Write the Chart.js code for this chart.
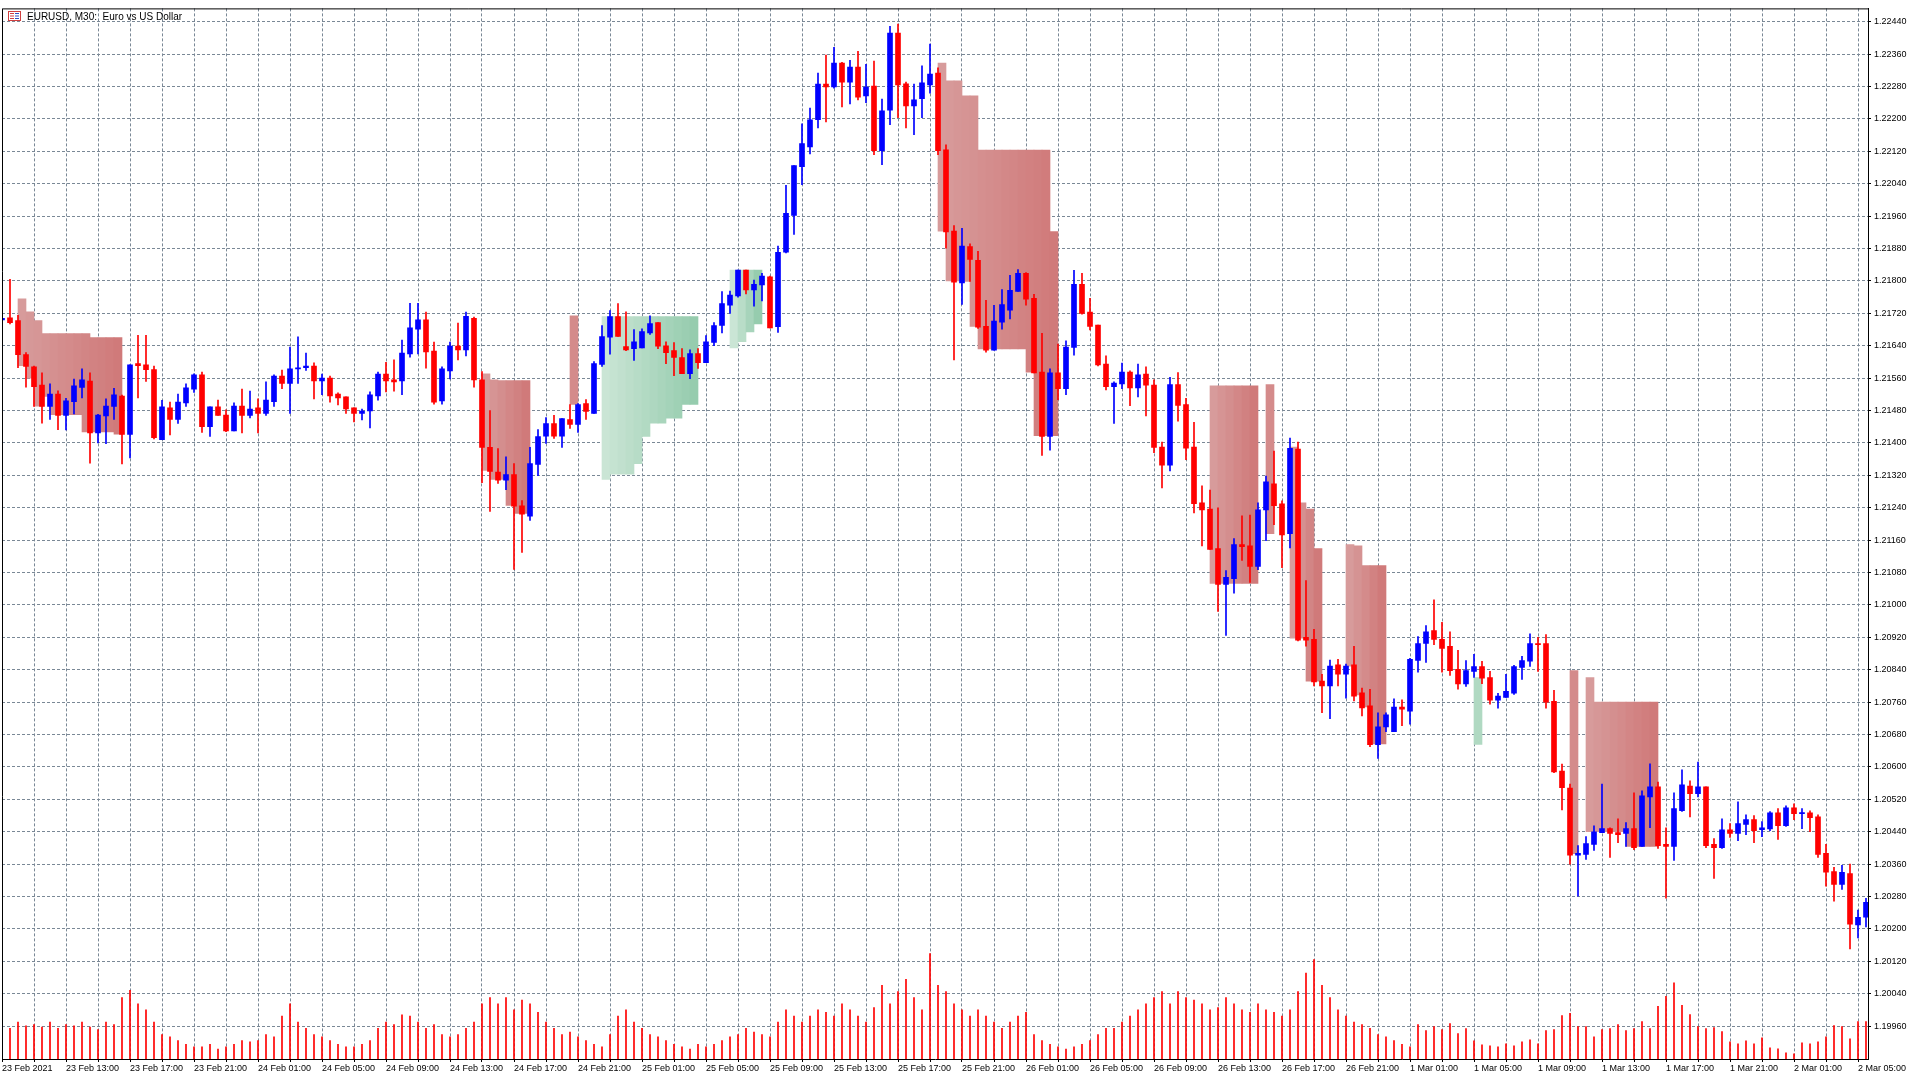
<!DOCTYPE html>
<html>
<head>
<meta charset="utf-8">
<script src="https://cdn.jsdelivr.net/npm/chart.js@4.4.1/dist/chart.umd.min.js"></script>
<style>
  html, body { margin: 0; padding: 0; background: #fff; }
  #wrap { width: 1918px; height: 1075px; position: relative; }
</style>
</head>
<body>
<div id="wrap"><canvas id="chart"></canvas></div>
<script>
// EURUSD M30, 23 Feb 2021 09:00 .. 2 Mar 2021 05:30 (one entry per bar)
const opens = [1.21704,1.21709,1.21702,1.21618,1.21588,1.21543,1.21490,1.21521,1.21468,1.21502,1.21537,1.21553,1.21425,1.21467,1.21490,1.21516,1.21421,1.21596,1.21593,1.21581,
1.21408,1.21487,1.21458,1.21499,1.21533,1.21568,1.21440,1.21489,1.21469,1.21430,1.21491,1.21468,1.21487,1.21473,1.21502,1.21565,1.21547,1.21583,1.21586,1.21590,
1.21553,1.21560,1.21521,1.21514,1.21487,1.21473,1.21479,1.21516,1.21570,1.21556,1.21553,1.21620,1.21681,1.21704,1.21627,1.21504,1.21578,1.21639,1.21630,1.21708,
1.21556,1.21389,1.21328,1.21308,1.21322,1.21245,1.21219,1.21347,1.21417,1.21448,1.21417,1.21458,1.21446,1.21497,1.21473,1.21594,1.21661,1.21712,1.21638,1.21633,
1.21635,1.21672,1.21697,1.21640,1.21628,1.21611,1.21571,1.21621,1.21598,1.21648,1.21690,1.21740,1.21763,1.21827,1.21778,1.21790,1.21810,1.21687,1.21871,1.21962,
1.22082,1.22131,1.22198,1.22286,1.22279,1.22338,1.22291,1.22328,1.22257,1.22281,1.22122,1.22222,1.22412,1.22287,1.22232,1.22250,1.22284,1.22313,1.22124,1.21923,
1.21795,1.21885,1.21851,1.21688,1.21629,1.21698,1.21728,1.21774,1.21819,1.21757,1.21575,1.21416,1.21573,1.21534,1.21636,1.21792,1.21723,1.21691,1.21595,1.21539,
1.21546,1.21575,1.21536,1.21570,1.21543,1.21390,1.21345,1.21544,1.21495,1.21390,1.21252,1.21237,1.21139,1.21051,1.21065,1.21149,1.21146,1.21095,1.21235,1.21299,
1.21250,1.21176,1.21385,1.20920,1.20915,1.20812,1.20800,1.20852,1.20829,1.20852,1.20783,1.20751,1.20655,1.20699,1.20687,1.20748,1.20738,1.20863,1.20905,1.20937,
1.20915,1.20898,1.20841,1.20805,1.20836,1.20848,1.20821,1.20765,1.20772,1.20782,1.20846,1.20861,1.20905,1.20905,1.20762,1.20590,1.20548,1.20382,1.20384,1.20409,
1.20438,1.20448,1.20438,1.20436,1.20448,1.20404,1.20526,1.20551,1.20409,1.20404,1.20492,1.20553,1.20534,1.20551,1.20409,1.20401,1.20445,1.20436,1.20458,1.20470,
1.20445,1.20447,1.20487,1.20455,1.20499,1.20485,1.20487,1.20477,1.20387,1.20342,1.20310,1.20337,1.20210,1.20229];
const highs = [1.21712,1.21804,1.21715,1.21623,1.21590,1.21573,1.21546,1.21529,1.21510,1.21558,1.21583,1.21573,1.21471,1.21509,1.21535,1.21518,1.21593,1.21666,1.21666,1.21590,
1.21505,1.21501,1.21521,1.21546,1.21571,1.21575,1.21489,1.21506,1.21482,1.21499,1.21533,1.21528,1.21509,1.21551,1.21568,1.21580,1.21637,1.21662,1.21622,1.21598,
1.21570,1.21565,1.21524,1.21514,1.21487,1.21484,1.21526,1.21575,1.21599,1.21605,1.21654,1.21745,1.21745,1.21723,1.21649,1.21588,1.21649,1.21696,1.21723,1.21711,
1.21576,1.21480,1.21386,1.21366,1.21349,1.21258,1.21389,1.21433,1.21463,1.21468,1.21460,1.21495,1.21497,1.21507,1.21601,1.21690,1.21727,1.21744,1.21724,1.21680,
1.21682,1.21714,1.21697,1.21650,1.21648,1.21633,1.21630,1.21633,1.21665,1.21697,1.21774,1.21775,1.21827,1.21827,1.21802,1.21819,1.21812,1.21886,1.22036,1.22085,
1.22188,1.22227,1.22313,1.22358,1.22377,1.22340,1.22345,1.22367,1.22335,1.22343,1.22249,1.22429,1.22434,1.22291,1.22286,1.22331,1.22385,1.22326,1.22136,1.21937,
1.21930,1.21892,1.21873,1.21752,1.21740,1.21779,1.21814,1.21828,1.21821,1.21767,1.21671,1.21583,1.21644,1.21652,1.21826,1.21819,1.21757,1.21691,1.21615,1.21551,
1.21597,1.21578,1.21595,1.21588,1.21556,1.21402,1.21562,1.21574,1.21510,1.21451,1.21294,1.21284,1.21240,1.21085,1.21164,1.21220,1.21222,1.21252,1.21318,1.21380,
1.21257,1.21412,1.21402,1.21060,1.20940,1.20829,1.20864,1.20866,1.20854,1.20898,1.20795,1.20792,1.20734,1.20734,1.20768,1.20766,1.20868,1.20922,1.20949,1.21013,
1.20957,1.20934,1.20888,1.20863,1.20878,1.20861,1.20836,1.20782,1.20829,1.20851,1.20873,1.20929,1.20920,1.20927,1.20789,1.20607,1.20558,1.20406,1.20428,1.20455,
1.20558,1.20450,1.20472,1.20463,1.20536,1.20541,1.20608,1.20563,1.20450,1.20536,1.20593,1.20566,1.20612,1.20551,1.20423,1.20472,1.20460,1.20514,1.20482,1.20480,
1.20465,1.20490,1.20497,1.20504,1.20509,1.20497,1.20492,1.20482,1.20409,1.20352,1.20357,1.20360,1.20247,1.20276];
const lows = [1.21700,1.21694,1.21586,1.21538,1.21490,1.21449,1.21458,1.21433,1.21432,1.21472,1.21511,1.21350,1.21400,1.21398,1.21458,1.21348,1.21363,1.21511,1.21552,1.21410,
1.21408,1.21420,1.21448,1.21490,1.21525,1.21426,1.21416,1.21468,1.21428,1.21430,1.21425,1.21462,1.21425,1.21468,1.21490,1.21534,1.21473,1.21547,1.21579,1.21509,
1.21519,1.21501,1.21494,1.21473,1.21452,1.21457,1.21437,1.21506,1.21526,1.21528,1.21519,1.21612,1.21620,1.21585,1.21496,1.21496,1.21558,1.21605,1.21615,1.21538,
1.21302,1.21231,1.21300,1.21285,1.21088,1.21130,1.21209,1.21319,1.21399,1.21411,1.21389,1.21436,1.21426,1.21458,1.21473,1.21589,1.21619,1.21663,1.21628,1.21604,
1.21635,1.21668,1.21633,1.21596,1.21566,1.21571,1.21559,1.21584,1.21598,1.21640,1.21672,1.21720,1.21760,1.21768,1.21738,1.21751,1.21684,1.21673,1.21869,1.21915,
1.22038,1.22114,1.22178,1.22193,1.22276,1.22230,1.22237,1.22247,1.22240,1.22112,1.22087,1.22186,1.22203,1.22178,1.22161,1.22203,1.22264,1.22112,1.21881,1.21605,
1.21742,1.21799,1.21683,1.21624,1.21629,1.21681,1.21706,1.21774,1.21740,1.21573,1.21369,1.21382,1.21507,1.21519,1.21617,1.21718,1.21679,1.21590,1.21531,1.21448,
1.21534,1.21492,1.21514,1.21467,1.21376,1.21289,1.21331,1.21454,1.21359,1.21227,1.21146,1.21137,1.20984,1.20925,1.21029,1.21110,1.21056,1.21087,1.21159,1.21198,
1.21092,1.21141,1.20911,1.20898,1.20800,1.20734,1.20719,1.20800,1.20770,1.20763,1.20726,1.20650,1.20621,1.20687,1.20687,1.20702,1.20706,1.20834,1.20858,1.20902,
1.20834,1.20826,1.20792,1.20799,1.20821,1.20806,1.20755,1.20745,1.20772,1.20779,1.20816,1.20848,1.20836,1.20745,1.20586,1.20494,1.20360,1.20281,1.20372,1.20394,
1.20438,1.20377,1.20413,1.20404,1.20396,1.20404,1.20450,1.20399,1.20276,1.20369,1.20490,1.20477,1.20526,1.20401,1.20325,1.20399,1.20426,1.20418,1.20433,1.20413,
1.20428,1.20443,1.20421,1.20453,1.20470,1.20448,1.20440,1.20377,1.20306,1.20269,1.20298,1.20151,1.20178,1.20205];
const closes = [1.21708,1.21697,1.21618,1.21589,1.21539,1.21490,1.21521,1.21468,1.21504,1.21541,1.21556,1.21425,1.21469,1.21491,1.21519,1.21421,1.21593,1.21591,1.21581,1.21413,
1.21489,1.21458,1.21501,1.21536,1.21568,1.21440,1.21489,1.21468,1.21430,1.21491,1.21468,1.21484,1.21473,1.21506,1.21565,1.21547,1.21583,1.21585,1.21590,1.21553,
1.21560,1.21516,1.21511,1.21484,1.21473,1.21479,1.21519,1.21570,1.21553,1.21551,1.21622,1.21684,1.21704,1.21625,1.21501,1.21583,1.21639,1.21630,1.21713,1.21556,
1.21389,1.21330,1.21308,1.21322,1.21244,1.21224,1.21349,1.21416,1.21448,1.21417,1.21460,1.21446,1.21495,1.21478,1.21596,1.21663,1.21712,1.21663,1.21630,1.21650,
1.21675,1.21695,1.21639,1.21623,1.21611,1.21571,1.21621,1.21598,1.21650,1.21690,1.21744,1.21765,1.21827,1.21778,1.21792,1.21812,1.21684,1.21871,1.21967,1.22085,
1.22139,1.22198,1.22286,1.22279,1.22338,1.22291,1.22328,1.22254,1.22279,1.22122,1.22220,1.22412,1.22284,1.22232,1.22247,1.22289,1.22311,1.22122,1.21921,1.21797,
1.21886,1.21853,1.21686,1.21629,1.21701,1.21742,1.21777,1.21819,1.21755,1.21573,1.21416,1.21573,1.21534,1.21637,1.21792,1.21720,1.21688,1.21593,1.21539,1.21548,
1.21575,1.21536,1.21568,1.21543,1.21389,1.21345,1.21544,1.21493,1.21387,1.21250,1.21235,1.21137,1.21051,1.21068,1.21149,1.21144,1.21095,1.21235,1.21304,1.21245,
1.21173,1.21387,1.20913,1.20913,1.20810,1.20800,1.20849,1.20829,1.20849,1.20775,1.20746,1.20655,1.20699,1.20729,1.20748,1.20743,1.20866,1.20905,1.20934,1.20915,
1.20893,1.20838,1.20805,1.20838,1.20848,1.20819,1.20765,1.20775,1.20787,1.20848,1.20863,1.20905,1.20902,1.20760,1.20588,1.20549,1.20382,1.20387,1.20411,1.20440,
1.20448,1.20436,1.20433,1.20448,1.20401,1.20529,1.20551,1.20406,1.20404,1.20497,1.20556,1.20534,1.20551,1.20406,1.20401,1.20445,1.20436,1.20460,1.20470,1.20443,
1.20450,1.20487,1.20455,1.20499,1.20485,1.20487,1.20475,1.20384,1.20340,1.20310,1.20340,1.20212,1.20229,1.20266];
// tick volumes
const volumes = [1120,1000,1200,1080,1120,1040,1200,1000,1120,1080,1200,1040,960,1200,1120,2000,2240,1800,1600,1200,
800,720,600,480,400,400,480,320,400,480,600,560,600,800,720,1400,1800,1200,1000,800,720,
600,480,400,400,480,600,1000,1200,1120,1440,1400,1200,1000,1120,800,720,800,1000,1200,1800,2000,
1800,2000,1600,1920,1800,1520,1200,1000,800,880,720,600,480,400,
800,1400,1600,1200,1000,800,720,600,480,400,320,480,400,480,600,720,800,1000,880,800,720,
1200,1600,1400,1200,1400,1600,1520,1400,1800,1600,1400,1200,1680,2400,1800,2200,2600,2000,1600,3440,2400,2200,1800,1600,1400,
1600,1400,1200,1000,1200,1400,1520,800,600,480,400,320,400,480,600,800,1000,1000,1200,1400,1600,1800,2000,2200,1800,
2200,2000,1920,1800,1600,1680,2000,1800,1600,1520,1800,1600,1520,1400,1600,2200,2800,3240,2400,2000,1600,1400,1200,1120,1000,800,720,600,480,400,
1122,924,1056,957,1155,825,990,594,462,429,396,495,429,561,627,495,924,957,1419,1485,1056,1056,726,957,990,1122,924,990,1221,990,
1716,2046,2486,1749,1452,1056,990,1023,891,561,495,594,495,693,363,330,198,165,528,495,561,726,1089,1056,660,1221,1221,1023];

// shaded zones: column position (between bars), low, high, zone id
const zoneX  = [2.5,3.5,4.5,5.5,6.5,7.5,8.5,9.5,10.5,11.5,12.5,13.5,14.5,
  60.5,61.5,62.5,63.5,64.5,65.5, 71.5,
  75.5,76.5,77.5,78.5,79.5,80.5,81.5,82.5,83.5,84.5,85.5,86.5,
  91.5,92.5,93.5,94.5,
  117.5,118.5,119.5,120.5,121.5,122.5,123.5,124.5,125.5,126.5,127.5,128.5,129.5,130.5,131.5,
  151.5,152.5,153.5,154.5,155.5,156.5, 158.5,
  161.5,162.5,163.5,164.5, 168.5,169.5,170.5,171.5,172.5, 184.5, 196.5,
  198.5,199.5,200.5,201.5,202.5,203.5,204.5,205.5,206.5];
const zoneLo = [1.21591,1.21560,1.21491,1.21515,1.21470,1.21470,1.21470,1.21470,1.21427,1.21427,1.21427,1.21427,1.21422,
  1.21332,1.21310,1.21310,1.21246,1.21226,1.21226, 1.21495,
  1.21310,1.21323,1.21323,1.21323,1.21349,1.21416,1.21449,1.21449,1.21461,1.21461,1.21495,1.21495,
  1.21635,1.21650,1.21674,1.21694,
  1.21923,1.21800,1.21800,1.21799,1.21688,1.21632,1.21632,1.21632,1.21632,1.21632,1.21632,1.21575,1.21418,1.21418,1.21418,
  1.21053,1.21053,1.21053,1.21053,1.21053,1.21053, 1.21176,
  1.20918,1.20918,1.20812,1.20812, 1.20849,1.20778,1.20748,1.20657,1.20657, 1.20656, 1.20386,
  1.20440,1.20440,1.20440,1.20440,1.20440,1.20404,1.20404,1.20404,1.20404];
const zoneHi = [1.21756,1.21724,1.21702,1.21670,1.21670,1.21670,1.21670,1.21670,1.21670,1.21660,1.21660,1.21660,1.21660,
  1.21571,1.21556,1.21554,1.21554,1.21554,1.21554, 1.21714,
  1.21712,1.21712,1.21712,1.21712,1.21712,1.21712,1.21712,1.21712,1.21712,1.21712,1.21712,1.21712,
  1.21827,1.21827,1.21827,1.21827,
  1.22338,1.22294,1.22294,1.22257,1.22257,1.22123,1.22123,1.22123,1.22123,1.22123,1.22123,1.22123,1.22123,1.22123,1.21922,
  1.21541,1.21541,1.21541,1.21541,1.21541,1.21541, 1.21544,
  1.21390,1.21252,1.21237,1.21139, 1.21149,1.21146,1.21097,1.21097,1.21097, 1.20821, 1.20838,
  1.20821,1.20760,1.20760,1.20760,1.20760,1.20760,1.20760,1.20760,1.20760];
const zoneId = [0,0,0,0,0,0,0,0,0,0,0,0,0, 1,1,1,1,1,1, 2,
  3,3,3,3,3,3,3,3,3,3,3,3, 4,4,4,4,
  5,5,5,5,5,5,5,5,5,5,5,5,5,5,5,
  6,6,6,6,6,6, 7, 8,8,8,8, 9,9,9,9,9, 10, 11,
  12,12,12,12,12,12,12,12,12];
const zoneBuy = [false,false,false,true,true,false,false,false,false,false,true,false,false];

// time axis labels, one every 8 bars
const timeLabels = ["23 Feb 2021","23 Feb 13:00","23 Feb 17:00","23 Feb 21:00","24 Feb 01:00","24 Feb 05:00",
  "24 Feb 09:00","24 Feb 13:00","24 Feb 17:00","24 Feb 21:00","25 Feb 01:00","25 Feb 05:00","25 Feb 09:00",
  "25 Feb 13:00","25 Feb 17:00","25 Feb 21:00","26 Feb 01:00","26 Feb 05:00","26 Feb 09:00","26 Feb 13:00",
  "26 Feb 17:00","26 Feb 21:00","1 Mar 01:00","1 Mar 05:00","1 Mar 09:00","1 Mar 13:00","1 Mar 17:00",
  "1 Mar 21:00","2 Mar 01:00","2 Mar 05:00"];

const priceStep = 0.0008;
const priceMin = 1.19879, priceMax = 1.22473;

// ---- build datasets
const bodyData = opens.map((o, i) => ({ x: i, y: [o, closes[i]] }));
const wickData = highs.map((h, i) => ({ x: i, y: [lows[i], h] }));
const volData = volumes.map((v, i) => ({ x: i, y: v }));
const zoneData = zoneX.map((x, i) => ({ x: x, y: [zoneLo[i], zoneHi[i]] }));
const candleColor = i => closes[i] >= opens[i] ? "#0000ff" : "#ff0000";

// zone colour darkens from left to right inside each zone
function zoneColor(ctx) {
  const k = ctx.dataIndex;
  if (k === undefined) return "#d09090";
  const id = zoneId[k];
  const members = zoneId.map((z, j) => z === id ? j : -1).filter(j => j >= 0);
  const t = members.length > 1 ? (k - members[0]) / (members.length - 1) : 0.5;
  const a = zoneBuy[id] ? [202, 229, 213] : [215, 155, 155];
  const b = zoneBuy[id] ? [150, 204, 174] : [208, 122, 122];
  const c = a.map((v, j) => Math.round(v + (b[j] - v) * t));
  return `rgb(${c[0]},${c[1]},${c[2]})`;
}

const frame = {
  id: "frame",
  afterDraw(chart) {
    const { ctx, chartArea: a } = chart;
    ctx.save();
    ctx.strokeStyle = "#000";
    ctx.lineWidth = 1;
    ctx.beginPath();
    ctx.moveTo(a.left + 0.5, a.bottom);
    ctx.lineTo(a.left + 0.5, a.top + 0.5);
    ctx.lineTo(a.right, a.top + 0.5);
    ctx.stroke();
    // symbol icon
    const ix = 8, iy = 11;
    ctx.fillStyle = "#fff";
    ctx.fillRect(ix, iy, 13, 10);
    ctx.strokeStyle = "#d04040";
    ctx.strokeRect(ix + 0.5, iy + 0.5, 12, 9);
    ctx.fillStyle = "#d04040";
    [2, 4.5, 7].forEach(dy => ctx.fillRect(ix + 2, iy + dy, 4, 1));
    ctx.fillStyle = "#3050c0";
    [2, 4.5, 7].forEach(dy => ctx.fillRect(ix + 7, iy + dy, 4, 1));
    ctx.fillStyle = "#000";
    ctx.font = "10px 'Liberation Sans', sans-serif";
    ctx.textBaseline = "middle";
    ctx.fillText("EURUSD, M30:  Euro vs US Dollar", 27, 17);
    ctx.restore();
  }
};

new Chart(document.getElementById("chart"), {
  type: "bar",
  data: {
    datasets: [
      { label: "body", data: bodyData, order: 1, grouped: false, barThickness: 5, minBarLength: 1,
        backgroundColor: c => candleColor(c.dataIndex), yAxisID: "y" },
      { label: "wick", data: wickData, order: 2, grouped: false, barThickness: 1, minBarLength: 1,
        backgroundColor: c => candleColor(c.dataIndex), yAxisID: "y" },
      { label: "zones", data: zoneData, order: 4, grouped: false, barThickness: 8,
        backgroundColor: zoneColor, yAxisID: "y" },
      { label: "volume", data: volData, order: 3, grouped: false, barThickness: 1,
        backgroundColor: "#ff0000", yAxisID: "vol" }
    ]
  },
  options: {
    responsive: true,
    maintainAspectRatio: false,
    animation: false,
    layout: { padding: { left: 2, top: 5, right: 0, bottom: 0 } },
    plugins: { legend: { display: false }, tooltip: { enabled: false } },
    scales: {
      x: {
        type: "linear", min: 0, max: 233.25, offset: false,
        afterFit: s => { s.height = 16; },
        afterBuildTicks: s => {
          const t = [];
          for (let v = 0; v <= 232; v += 4) t.push({ value: v });
          s.ticks = t;
        },
        ticks: {
          autoSkip: false, maxRotation: 0, align: "start", padding: 1, color: "#000",
          font: { family: "'Liberation Sans', sans-serif", size: 9 },
          callback: v => v % 8 === 0 ? timeLabels[v / 8] : ""
        },
        grid: { offset: false, color: "#7a8896", lineWidth: 1, tickLength: 3, tickColor: "#000" },
        border: { display: true, color: "#000", dash: [3, 2] }
      },
      y: {
        position: "right", min: priceMin, max: priceMax,
        afterFit: s => { s.width = 50; },
        afterBuildTicks: s => {
          const t = [];
          for (let k = 0; k <= 31; k++) t.push({ value: +(1.19960 + k * priceStep).toFixed(5) });
          s.ticks = t;
        },
        ticks: { color: "#000", padding: 3, font: { family: "'Liberation Sans', sans-serif", size: 9 },
          callback: v => v.toFixed(5) },
        grid: { color: "#7a8896", tickLength: 3, tickColor: "#000" },
        border: { display: true, color: "#000", dash: [3, 2] }
      },
      vol: { display: false, min: 0, max: 34250 }
    }
  },
  plugins: [frame]
});
</script>
</body>
</html>
